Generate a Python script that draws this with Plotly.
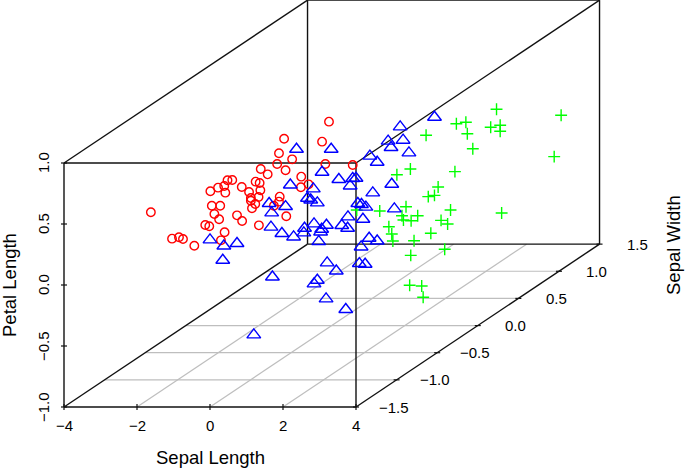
import plotly.graph_objects as go

# Axis ticks of the oblique 3D box
sepal_length_ticks = [-4, -2, 0, 2, 4]
sepal_width_ticks = [-1.5, -1.0, -0.5, 0.0, 0.5, 1.0, 1.5]
petal_length_ticks = [-1.0, -0.5, 0.0, 0.5, 1.0]
x_tick_labels = ["\u22124", "\u22122", "0", "2", "4"]
y_tick_labels = ["\u22121.5", "\u22121.0", "\u22120.5", "0.0", "0.5", "1.0", "1.5"]
z_tick_labels = ["\u22121.0", "\u22120.5", "0.0", "0.5", "1.0"]

# Points, as positions on the projected plane
# (horizontal in Sepal Length units, vertical in Petal Length units)
red_h = [-1.62,-1.04,-0.85,-0.74,-0.43,-0.13,-0.02,0.30,0.40,0.25,0.12,0.05,0.28,0.01,0.22,0.39,0.42,0.48,0.61,0.87,
         1.07,0.74,0.88,1.34,1.12,1.12,1.15,1.24,1.33,1.38,1.25,1.36,1.39,1.58,1.84,1.89,2.03,2.25,2.07,2.50,
         2.49,2.70,3.07,3.26,3.16,1.91,1.89,1.75,2.09,3.91]
red_v = [0.596,0.380,0.391,0.377,0.322,0.492,0.481,0.366,0.432,0.539,0.582,0.650,0.650,0.768,0.798,0.812,0.757,0.858,0.861,0.803,
         0.762,0.571,0.525,0.489,0.713,0.691,0.629,0.664,0.721,0.776,0.847,0.836,0.951,0.907,0.992,1.080,1.199,1.030,0.940,0.888,
         0.801,0.825,1.175,1.339,0.992,0.724,0.683,0.650,0.563,0.984]

blue_h = [0.00,0.38,0.74,0.35,1.62,1.69,2.07,1.67,1.97,2.29,2.20,2.37,3.07,3.32,2.83,2.67,2.76,2.94,2.59,2.57,
          2.85,3.19,3.06,3.03,2.98,3.61,3.77,3.78,4.19,4.05,4.15,4.27,3.53,3.84,3.91,4.00,4.46,4.98,5.05,4.58,
          4.38,4.96,4.88,5.21,5.29,5.45,6.15,4.36,4.58,4.14,4.09,4.25,3.21,3.46,2.94,2.85,3.18,3.72,1.71,1.20]
blue_v = [0.370,0.320,0.340,0.203,0.668,0.591,0.643,0.474,0.422,0.394,0.820,1.113,0.924,1.113,0.788,0.711,0.697,0.673,0.465,0.427,
          0.501,0.490,0.457,0.435,0.356,0.488,0.465,0.558,0.539,0.668,0.660,0.638,0.865,0.812,0.873,0.875,0.755,0.826,0.624,1.006,
          1.056,1.127,1.179,1.296,1.187,1.083,1.375,0.383,0.361,0.312,0.176,0.170,0.181,0.115,0.039,0.009,-0.114,-0.201,0.066,-0.409]

green_h = [7.85,9.62,6.75,7.01,7.69,7.95,7.95,7.05,5.92,7.20,9.43,5.49,5.12,6.71,6.25,5.98,6.15,5.37,4.65,6.59,
           7.99,5.26,5.69,5.30,5.51,6.33,6.51,4.90,4.98,6.05,5.01,5.59,6.43,5.50,5.47,5.80,5.84,4.02]
green_v = [1.440,1.391,1.322,1.334,1.293,1.309,1.260,1.240,1.227,1.117,1.052,0.951,0.904,0.929,0.803,0.724,0.735,0.642,0.607,0.615,
           0.590,0.568,0.568,0.533,0.527,0.530,0.500,0.478,0.418,0.424,0.361,0.363,0.293,0.243,-0.002,-0.008,-0.101,0.615]

# Oblique projection: how far one Sepal Width unit shifts right and up
SHIFT_H = 2.224
SHIFT_V = 0.445
Y0 = sepal_width_ticks[0]
X0, X1 = sepal_length_ticks[0], sepal_length_ticks[-1]
Y1 = sepal_width_ticks[-1]
Z0, Z1 = petal_length_ticks[0], petal_length_ticks[-1]


def proj(x, y, z):
    return x + (y - Y0) * SHIFT_H, z + (y - Y0) * SHIFT_V


def segments(pairs):
    xs, ys = [], []
    for a, b in pairs:
        pa, pb = proj(*a), proj(*b)
        xs += [pa[0], pb[0], None]
        ys += [pa[1], pb[1], None]
    return xs, ys


fig = go.Figure()

grid = []
for x in sepal_length_ticks[1:-1]:
    grid.append(((x, Y0, Z0), (x, Y1, Z0)))
for y in sepal_width_ticks[1:-1]:
    grid.append(((X0, y, Z0), (X1, y, Z0)))
gx, gy = segments(grid)
fig.add_trace(go.Scatter(x=gx, y=gy, mode="lines", line=dict(color="#BEBEBE", width=1.2), hoverinfo="skip"))

box = []
for y in (Y0, Y1):
    box += [((X0, y, Z0), (X1, y, Z0)), ((X1, y, Z0), (X1, y, Z1)),
            ((X1, y, Z1), (X0, y, Z1)), ((X0, y, Z1), (X0, y, Z0))]
for x in (X0, X1):
    for z in (Z0, Z1):
        box.append(((x, Y0, z), (x, Y1, z)))
bx, by = segments(box)
fig.add_trace(go.Scatter(x=bx, y=by, mode="lines", line=dict(color="#111111", width=1.4), hoverinfo="skip"))

TICK_H = 3 / 36.5
TICK_V = 3 / 122
tx, ty = [], []
for z in petal_length_ticks:
    h, v = proj(X0, Y0, z)
    tx += [h - TICK_H, h + TICK_H, None]
    ty += [v, v, None]
for y in sepal_width_ticks:
    h, v = proj(X1, y, Z0)
    tx += [h - TICK_H, h + TICK_H, None]
    ty += [v, v, None]
for x in sepal_length_ticks:
    h, v = proj(x, Y0, Z0)
    tx += [h, h, None]
    ty += [v - TICK_V, v + TICK_V, None]
fig.add_trace(go.Scatter(x=tx, y=ty, mode="lines", line=dict(color="#111111", width=1.2), hoverinfo="skip"))

fig.add_trace(go.Scatter(x=red_h, y=red_v, mode="markers", name="setosa",
                         marker=dict(symbol="circle-open", size=8.5, color="#FF0000", line=dict(width=1.4, color="#FF0000"))))
fig.add_trace(go.Scatter(x=green_h, y=green_v, mode="markers", name="virginica",
                         marker=dict(symbol="cross-thin-open", size=8.5, color="#00FF00", line=dict(width=1.4, color="#00FF00"))))
fig.add_trace(go.Scatter(x=blue_h, y=blue_v, mode="markers", name="versicolor",
                         marker=dict(symbol="triangle-up-open", size=12, color="#0000FF", line=dict(width=1.4, color="#0000FF"))))

FONT = "Liberation Sans"
ann = []
for x, lab in zip(sepal_length_ticks, x_tick_labels):
    h, v = proj(x, Y0, Z0)
    ann.append(dict(x=h, y=v, text=lab, xref="x", yref="y", yshift=-18, showarrow=False, font=dict(size=15)))
for y, lab in zip(sepal_width_ticks, y_tick_labels):
    h, v = proj(X1, y, Z0)
    ann.append(dict(x=h, y=v, text=lab, xref="x", yref="y", xshift=38, showarrow=False, font=dict(size=15)))
for z, lab in zip(petal_length_ticks, z_tick_labels):
    h, v = proj(X0, Y0, z)
    ann.append(dict(x=h, y=v, text=lab, xref="x", yref="y", xshift=-21, showarrow=False, textangle=-90, font=dict(size=15)))
title_common = dict(xref="paper", yref="paper", xanchor="center", yanchor="middle", showarrow=False, font=dict(size=18.5))
ann.append(dict(x=210 / 685, y=1 - 457 / 468, text="Sepal Length", **title_common))
ann.append(dict(x=9 / 685, y=1 - 285 / 468, text="Petal Length", textangle=-90, **title_common))
ann.append(dict(x=673 / 685, y=1 - 245 / 468, text="Sepal Width", textangle=-90, **title_common))

fig.update_layout(
    width=685, height=468, margin=dict(l=0, r=0, t=0, b=0),
    paper_bgcolor="white", plot_bgcolor="white", showlegend=False,
    font=dict(family=FONT, color="black"), annotations=ann,
    xaxis=dict(visible=False, range=[-210 / 36.5, 475 / 36.5]),
    yaxis=dict(visible=False, range=[-183 / 122, 285 / 122]),
)
fig.write_html("out.html", config=dict(displayModeBar=False), post_script="document.body.style.margin='0';")
